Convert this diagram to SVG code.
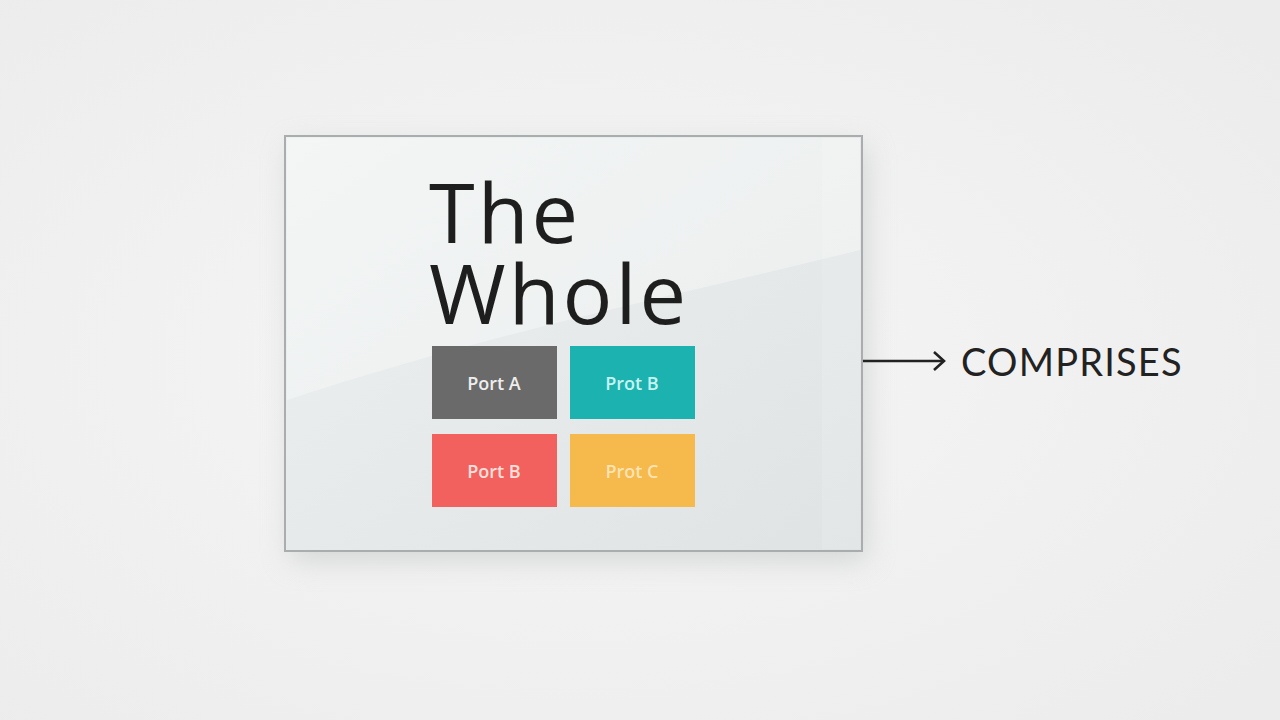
<svg xmlns="http://www.w3.org/2000/svg" width="1280" height="720" viewBox="0 0 1280 720">
<defs>
<radialGradient id="bg" cx="0.45" cy="0.5" r="0.7">
<stop offset="0" stop-color="#f6f6f6"/>
<stop offset="1" stop-color="#ececec"/>
</radialGradient>
<linearGradient id="glass" x1="0" y1="0" x2="1" y2="1">
<stop offset="0" stop-color="#eef1f1"/>
<stop offset="0.5" stop-color="#e6eaea"/>
<stop offset="1" stop-color="#dfe3e3"/>
</linearGradient>
<filter id="shadow" x="-20%" y="-20%" width="140%" height="140%">
<feGaussianBlur stdDeviation="14"/>
</filter>
<marker id="arrow" markerWidth="14" markerHeight="20" refX="12" refY="10" orient="auto" markerUnits="userSpaceOnUse">
<path d="M2,1 L12,10 L2,19" fill="none" stroke="#222" stroke-width="2.6"/>
</marker>
<style>
.title{font-family:"Open Sans","Noto Sans",sans-serif;font-weight:400;font-size:83px;letter-spacing:3px;fill:#1e1e1e}
.part{font-family:"Open Sans","Noto Sans",sans-serif;font-weight:600;font-size:18px;text-anchor:middle}
.label{font-family:Lato,"Open Sans",sans-serif;font-weight:400;font-size:38px;letter-spacing:1.2px;fill:#222}
</style>
</defs>
<rect width="1280" height="720" fill="url(#bg)"/>
<g id="panel">
<rect x="290" y="146" width="577" height="415" fill="#b8bcbc" opacity="0.5" filter="url(#shadow)"/>
<rect x="285" y="136" width="577" height="415" fill="url(#glass)" stroke="#a9adad" stroke-width="2"/>
<path d="M287,138 L860,138 L860,250 C700,290 500,330 287,400 Z" fill="#ffffff" opacity="0.35"/>
<rect x="822" y="138" width="38" height="411" fill="#ffffff" opacity="0.12"/>
<text class="title" x="429" y="243">The</text>
<text class="title" x="429" y="324">Whole</text>
</g>
<g id="partA">
<rect x="432" y="346" width="125" height="73" fill="#6a6a6a"/>
<text class="part" x="494" y="390" fill="#eeeeee">Port A</text>
</g>
<g id="protB">
<rect x="570" y="346" width="125" height="73" fill="#1bb2b0"/>
<text class="part" x="632" y="390" fill="#c8f2f0">Prot B</text>
</g>
<g id="partB">
<rect x="432" y="434" width="125" height="73" fill="#f2615e"/>
<text class="part" x="494" y="478" fill="#fde0dc">Port B</text>
</g>
<g id="protC">
<rect x="570" y="434" width="125" height="73" fill="#f6b94b"/>
<text class="part" x="632" y="478" fill="#fbe3b4">Prot C</text>
</g>
<g id="connectors">
<line x1="863" y1="361" x2="944" y2="361" stroke="#222" stroke-width="2.6" marker-end="url(#arrow)"/>
</g>
<g id="comprises">
<text class="label" x="961" y="376">COMPRISES</text>
</g>
</svg>
